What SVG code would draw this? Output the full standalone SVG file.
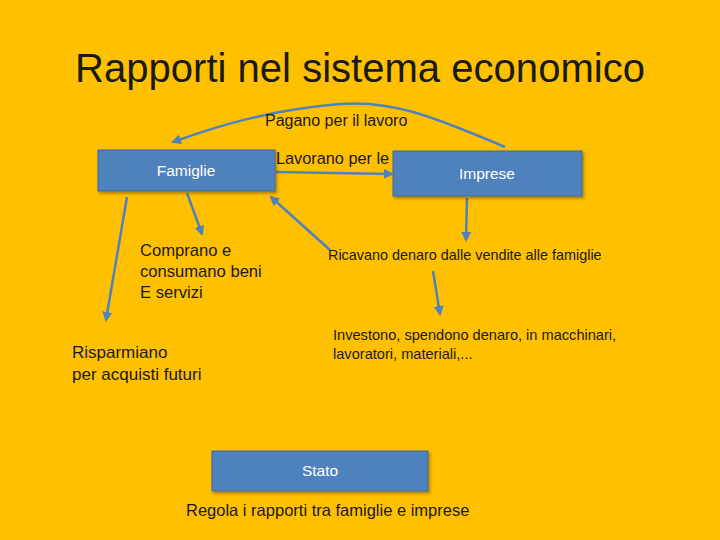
<svg xmlns="http://www.w3.org/2000/svg" width="720" height="540" viewBox="0 0 720 540">
<defs>
<style>
.t{font-family:"Liberation Sans",Arial,sans-serif;fill:#1a1a1a}
.w{font-family:"Liberation Sans",Arial,sans-serif;fill:#ffffff;font-size:15.5px;text-anchor:middle}
.box{fill:#4F81BD;stroke:#3d6a9e;stroke-width:1}
.c{fill:none;stroke:#4F81BD;stroke-width:2.5;marker-end:url(#ah)}
</style>
<marker id="ah" viewBox="0 0 10 10" refX="8" refY="5" markerWidth="4" markerHeight="4" orient="auto">
<path d="M0,0 L10,5 L0,10 z" fill="#4F81BD"/>
</marker>
<filter id="sh" x="-10%" y="-20%" width="130%" height="160%">
<feDropShadow dx="1.5" dy="2" stdDeviation="1.5" flood-color="#000" flood-opacity="0.35"/>
</filter>
</defs>
<rect width="720" height="540" fill="#FFC000"/>
<text class="t" x="360" y="82" font-size="40" text-anchor="middle" textLength="570" lengthAdjust="spacingAndGlyphs">Rapporti nel sistema economico</text>
<g id="connectors">
<path class="c" d="M505,147 C430,115 390,100 340,104 C270,110 220,125 173,142"/>
<path class="c" d="M276,172 L392,174"/>
<path class="c" d="M127,197 L106,320"/>
<path class="c" d="M187,193 L202,234"/>
<path class="c" d="M330,250 L271,197"/>
<path class="c" d="M467,198 L466,240"/>
<path class="c" d="M433,271 L440,314"/>
</g>
<g id="famiglie">
<rect class="box" x="98" y="150" width="177" height="41" filter="url(#sh)"/>
<text class="w" x="186" y="176">Famiglie</text>
</g>
<g id="imprese">
<rect class="box" x="393" y="151" width="189" height="45" filter="url(#sh)"/>
<text class="w" x="487" y="179">Imprese</text>
</g>
<g id="stato">
<rect class="box" x="212" y="451" width="216" height="40" filter="url(#sh)"/>
<text class="w" x="320" y="476">Stato</text>
</g>
<g id="labels">
<text class="t" x="265" y="126" font-size="16">Pagano per il lavoro</text>
<text class="t" x="276" y="164" font-size="16.3">Lavorano per le</text>
<text class="t" font-size="16.6"><tspan x="140" y="256">Comprano e</tspan><tspan x="140" y="277">consumano beni</tspan><tspan x="140" y="298">E servizi</tspan></text>
<text class="t" x="328" y="260" font-size="14.4">Ricavano denaro dalle vendite alle famiglie</text>
<text class="t" font-size="14.6"><tspan x="333" y="340">Investono, spendono denaro, in macchinari,</tspan><tspan x="333" y="359">lavoratori, materiali,...</tspan></text>
<text class="t" font-size="17"><tspan x="72" y="358">Risparmiano</tspan><tspan x="72" y="380">per acquisti futuri</tspan></text>
<text class="t" x="186" y="516" font-size="16.5">Regola i rapporti tra famiglie e imprese</text>
</g>
</svg>
